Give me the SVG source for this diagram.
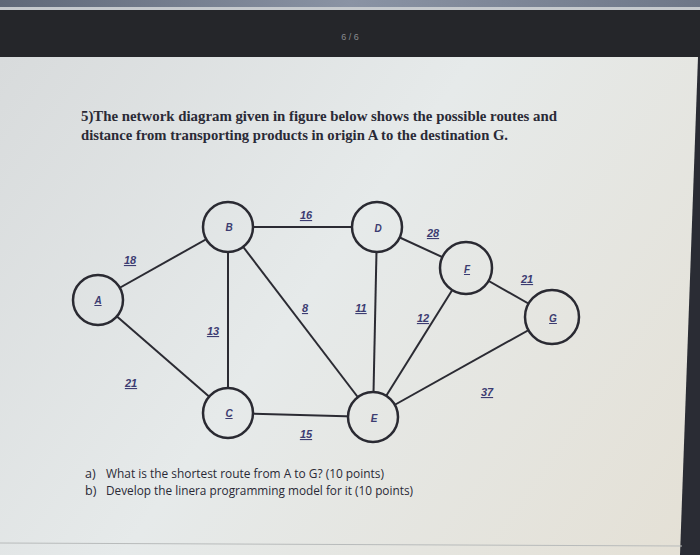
<svg xmlns="http://www.w3.org/2000/svg" width="700" height="555" viewBox="0 0 700 555">
<defs>
<linearGradient id="bg" gradientUnits="userSpaceOnUse" x1="0" y1="60" x2="700" y2="555">
<stop offset="0" stop-color="#d8dbdc"/>
<stop offset="0.45" stop-color="#e6eaea"/>
<stop offset="1" stop-color="#e4e0d5"/>
</linearGradient>
<linearGradient id="topbar" x1="0" y1="0" x2="1" y2="0">
<stop offset="0" stop-color="#5f6878"/>
<stop offset="0.5" stop-color="#8a93a4"/>
<stop offset="1" stop-color="#6e7788"/>
</linearGradient>
</defs>
<style>
.edge{stroke:#2b2b33;stroke-width:2;fill:none}
.node{stroke:#2a2a32;stroke-width:2.5;fill:url(#bg)}
.nl{font-family:"Liberation Sans",Arial,sans-serif;font-size:10px;font-style:italic;font-weight:bold;fill:#3c3c70;text-anchor:middle}
.el{font-family:"Liberation Sans",Arial,sans-serif;font-size:11px;font-style:italic;font-weight:bold;fill:#3c3c72;text-anchor:middle;text-decoration:underline}
.title{font-family:"Liberation Serif","Times New Roman",serif;font-size:15.5px;font-weight:bold;fill:#2a2a36}
.q{font-family:"Open Sans","Liberation Sans",sans-serif;font-size:12.5px;fill:#2a2a36}
</style>
<rect x="0" y="0" width="700" height="555" fill="url(#bg)"/>
<rect x="0" y="0" width="700" height="7" fill="url(#topbar)"/>
<rect x="0" y="7" width="700" height="3" fill="#c5c9cd"/>
<rect x="0" y="10" width="700" height="47" fill="#25262a"/>
<text x="350" y="40" font-family="'Liberation Sans',Arial,sans-serif" font-size="9" fill="#8a8c90" text-anchor="middle">6 / 6</text>
<polygon points="698,57 700,57 700,555 680,555" fill="#2a2c34"/>
<line x1="0" y1="543" x2="682" y2="546" stroke="#b8bbbb" stroke-width="1"/>
<text class="title" x="81" y="121" textLength="476" lengthAdjust="spacingAndGlyphs">5)The network diagram given in figure below shows the possible routes and</text>
<text class="title" x="81" y="140" textLength="427" lengthAdjust="spacingAndGlyphs">distance from transporting products in origin A to the destination G.</text>
<g id="connectors">
<line class="edge" x1="98" y1="300" x2="228" y2="227"/>
<line class="edge" x1="98" y1="300" x2="228" y2="413"/>
<line class="edge" x1="228" y1="227" x2="228" y2="413"/>
<line class="edge" x1="228" y1="227" x2="377" y2="227"/>
<line class="edge" x1="228" y1="227" x2="373" y2="417"/>
<line class="edge" x1="377" y1="227" x2="373" y2="417"/>
<line class="edge" x1="377" y1="227" x2="466" y2="268"/>
<line class="edge" x1="466" y1="268" x2="373" y2="417"/>
<line class="edge" x1="466" y1="268" x2="552" y2="317"/>
<line class="edge" x1="373" y1="417" x2="552" y2="317"/>
<line class="edge" x1="228" y1="413" x2="373" y2="417"/>
<text class="el" x="130" y="264">18</text>
<text class="el" x="131" y="387">21</text>
<text class="el" x="213" y="335">13</text>
<text class="el" x="306" y="219">16</text>
<text class="el" x="305" y="312">8</text>
<text class="el" x="361" y="312">11</text>
<text class="el" x="306" y="438">15</text>
<text class="el" x="433" y="237">28</text>
<text class="el" x="527" y="283">21</text>
<text class="el" x="423" y="322">12</text>
<text class="el" x="487" y="396">37</text>
</g>
<g id="node-A"><circle class="node" cx="98" cy="300" r="25"/><text class="nl" x="98" y="304" text-decoration="underline">A</text></g>
<g id="node-B"><circle class="node" cx="228" cy="227" r="25"/><text class="nl" x="229" y="231">B</text></g>
<g id="node-C"><circle class="node" cx="228" cy="413" r="25"/><text class="nl" x="229" y="417" text-decoration="underline">C</text></g>
<g id="node-D"><circle class="node" cx="377" cy="227" r="25"/><text class="nl" x="378" y="232">D</text></g>
<g id="node-E"><circle class="node" cx="373" cy="417" r="25"/><text class="nl" x="374" y="422">E</text></g>
<g id="node-F"><circle class="node" cx="466" cy="268" r="26"/><text class="nl" x="467" y="273" text-decoration="underline">F</text></g>
<g id="node-G"><circle class="node" cx="552" cy="317" r="27"/><text class="nl" x="553" y="322" text-decoration="underline">G</text></g>
<text class="q" x="85" y="478">a)</text>
<text class="q" x="106" y="478" textLength="278" lengthAdjust="spacingAndGlyphs">What is the shortest route from A to G? (10 points)</text>
<text class="q" x="85" y="495">b)</text>
<text class="q" x="106" y="495" textLength="307" lengthAdjust="spacingAndGlyphs">Develop the linera programming model for it (10 points)</text>
</svg>
